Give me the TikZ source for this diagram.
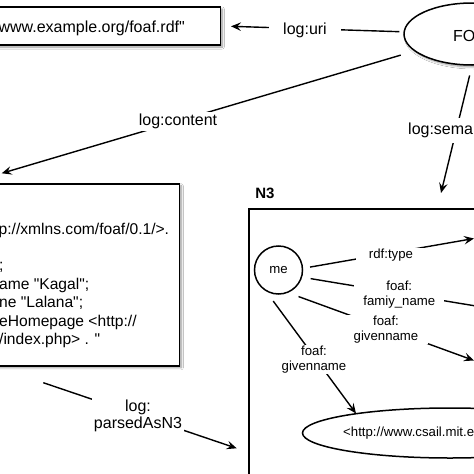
\documentclass[tikz,border=0pt]{standalone}
\usepackage{fontspec}
\setmainfont{Liberation Sans}
\usetikzlibrary{arrows.meta,shapes.geometric,shadows.blur}
\newcommand\outerfont{\fontsize{16}{17}\selectfont}
\newcommand\innerfont{\fontsize{13.2}{15.5}\selectfont}
\newcommand\codefont{\fontsize{15.6}{18.4}\selectfont}
\newcommand\dq{\textquotedbl}
\begin{document}
\begin{tikzpicture}[x=1pt,y=-1pt,
  shad/.style={blur shadow={shadow xshift=2pt, shadow yshift=-2pt, shadow opacity=40, shadow blur steps=6, shadow blur radius=2pt}},
  box/.style={draw, line width=1.5pt, fill=white, inner sep=0pt, shad},
  oval/.style={ellipse, draw, line width=1.5pt, fill=white, inner sep=0pt},
  arr/.style={line width=1.4pt, -{Stealth[length=10pt,width=8.5pt,inset=3.8pt]}},
  olbl/.style={font=\outerfont, fill=white, inner ysep=2pt, inner xsep=2pt},
  ilbl/.style={font=\innerfont, fill=white, align=center, inner ysep=1pt},
  txt/.style={inner sep=0pt},
]
\useasboundingbox (0,0) rectangle (474,474);
\clip (0,0) rectangle (474,474);
\fill[white] (0,0) rectangle (474,474);

% boxes and shapes
\node[box, anchor=east, minimum width=300pt, minimum height=38pt] (uribox) at (221,26) {};
\node[txt, font=\outerfont, anchor=east] (uritext) at (185,28) {www.example.org/foaf.rdf\dq};

\node[oval, shad, minimum width=136pt, minimum height=62pt] (foaf) at (472,34) {};
\node[txt, font=\outerfont, anchor=west] (foaftext) at (453,35.5) {FO};

\node[box, anchor=north east, minimum width=300pt, minimum height=182pt] (content) at (180,183) {};
\node[txt, font=\codefont, anchor=base west] (cl1) at (-1.5,234) {p://xmlns.com/foaf/0.1/>.};
\node[txt, font=\codefont, anchor=base west] (cl2) at (-1,270.8) {;};
\node[txt, font=\codefont, anchor=base west] (cl3) at (-1,289.2) {ame \dq Kagal\dq;};
\node[txt, font=\codefont, anchor=base west] (cl4) at (-1,307.6) {ne \dq Lalana\dq;};
\node[txt, font=\codefont, anchor=base west] (cl5) at (-1,326) {eHomepage <http://};
\node[txt, font=\codefont, anchor=base west] (cl6) at (-1,344.4) {/index.php> . \dq};

\node[box, anchor=north west, minimum width=300pt, minimum height=300pt] (n3box) at (248.3,208.3) {};
\node[txt, font=\bfseries\fontsize{15}{16}\selectfont] (n3lbl) at (265,193.5) {N3};

\node[circle, draw, line width=1.5pt, minimum size=48pt, inner sep=0pt, font=\innerfont] (me) at (278.5,270) {me};

\node[oval, minimum width=295pt, minimum height=50pt] (url) at (450,433) {};
\node[txt, font=\innerfont, anchor=west] (urltext) at (343,433) {<http://www.csail.mit.e};

% free ends
\coordinate (ctip) at (1.7,173.3);
\coordinate (stip) at (441,193);
\coordinate (pstart) at (43.3,382.7);
\coordinate (ptip) at (236.7,448.3);
\coordinate (typeT) at (474,238.5);
\coordinate (famT) at (500,310);
\coordinate (givT) at (474,360.5);
\coordinate (gnT) at (356,413.5);

% outer connectors
\draw[arr, shorten <=4pt, shorten >=10pt] (foaf) -- (uribox.east);
\node[olbl, inner xsep=14pt] (luri) at (305,30) {log:uri};

\draw[arr, shorten <=14pt] (foaf) -- (ctip);
\node[olbl] (lcont) at (178,121.5) {log:content};

\draw[arr, shorten <=10pt] (foaf.south) -- (stip);
\node[olbl, anchor=west, inner xsep=0pt, inner ysep=5pt] (lsem) at (408,130.5) {log:sema};

\draw[arr] (pstart) -- (ptip);
\node[olbl, align=center, inner sep=1.5pt] (lparse) at (138,415.5) {log:\\parsedAsN3};

% N3 connectors
\draw[arr, shorten <=7pt] (me.4) -- (typeT);
\node[ilbl, inner xsep=13pt] (ltype) at (391,255) {rdf:type};

\draw[arr, shorten <=8.6pt] (me.-17) -- (famT);
\node[ilbl, inner xsep=9pt] (lfam) at (399.3,294.5) {foaf:\\famiy\_name};

\draw[arr, shorten <=11pt] (me.-67) -- (givT);
\node[ilbl, inner xsep=10pt] (lgiv) at (386,329.5) {foaf:\\givenname};

\draw[arr, shorten <=12pt] (me.-120) -- (gnT);
\node[ilbl, inner xsep=1pt] (lgn) at (314,359.5) {foaf:\\givenname};
\end{tikzpicture}
\end{document}
